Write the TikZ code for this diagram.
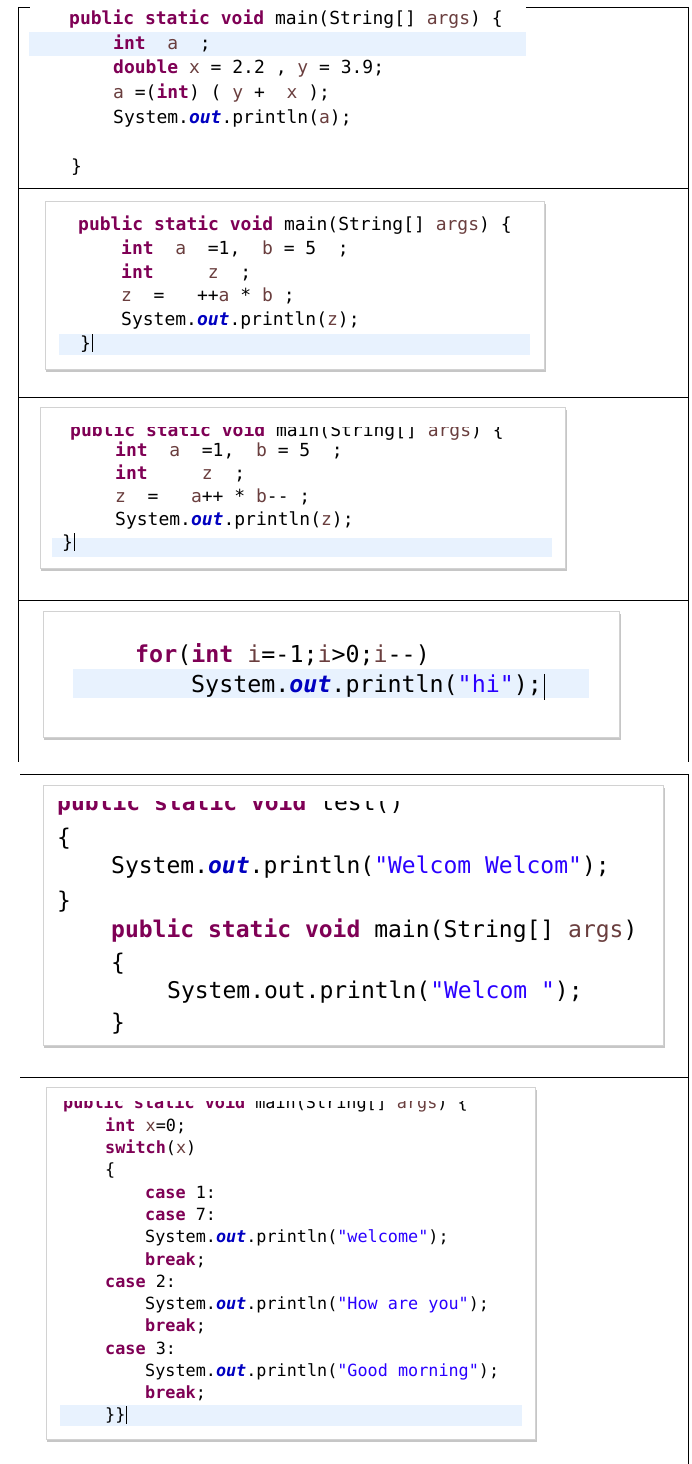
\documentclass[tikz,border=0pt]{standalone}
\usepackage{fontspec}
\newfontfamily\mono{DejaVu Sans Mono}
\definecolor{kwc}{HTML}{7F0055}
\definecolor{vrc}{HTML}{6A3E3E}
\definecolor{otc}{HTML}{0000C0}
\definecolor{stc}{HTML}{2A00FF}
\definecolor{hl}{HTML}{E8F2FE}
\newcommand{\kw}[1]{\textcolor{kwc}{\bfseries #1}}
\newcommand{\vr}[1]{\textcolor{vrc}{#1}}
\newcommand{\ot}[1]{\textcolor{otc}{\bfseries\itshape #1}}
\newcommand{\stq}[1]{\textcolor{stc}{#1}}
\tikzset{
  code/.style={anchor=base west, inner sep=0pt, text=black},
  rule/.style={draw=black, line width=0.8pt},
  hlbar/.style={fill=hl, draw=none},
  shot/.style={fill=white, draw=gray!35, line width=0.6pt},
  shad/.style={fill=gray!45, draw=none},
  cursor/.style={draw=black, line width=0.7pt}
}
\begin{document}
\begin{tikzpicture}[x=1pt,y=-1pt]
\useasboundingbox (0,0) rectangle (692,1464);
\fill[white] (0,0) rectangle (692,1464);
% table rules
\coordinate (t1) at (18,7); \coordinate (t2) at (30,7);
\coordinate (t3) at (526,7); \coordinate (t4) at (688,7);
\coordinate (b1) at (18,762); \coordinate (b4) at (688,762);
\draw[rule] (t1) -- (t2); \draw[rule] (t3) -- (t4);
\draw[rule] (t1) -- (b1); \draw[rule] (t4) -- (b4);
\draw[rule] (18,188) -- (688,188);
\draw[rule] (18,397) -- (688,397);
\draw[rule] (18,600) -- (688,600);
\draw[rule] (20,774) -- (688,774);
\draw[rule] (688,774) -- (688,1464);
\draw[rule] (20,1077) -- (688,1077);

% block 1
\fill[hl] (29,32) rectangle (526,56);
\begin{scope}[every node/.style={code, font=\mono\fontsize{18}{18}\selectfont}]
\node (a1) at (69,25) {\kw{public static void} main(String[] \vr{args}) \{};
\node (a2) at (113,50) {\kw{int}\ \ \vr{a}\ \ ;};
\node (a3) at (113,74) {\kw{double} \vr{x} = 2.2 , \vr{y} = 3.9;};
\node (a4) at (113,99) {\vr{a} =(\kw{int}) ( \vr{y} +\ \ \vr{x} );};
\node (a5) at (113,123) {System.\ot{out}.println(\vr{a});};
\node (a6) at (71,172) {\}};
\end{scope}

% block 2
\fill[shad] (46,204) rectangle (546,372);
\draw[shot] (45,201) rectangle (544,369);
\fill[hl] (59,334) rectangle (530,355);
\begin{scope}[every node/.style={code, font=\mono\fontsize{18}{18}\selectfont}]
\node (c1) at (78,230) {\kw{public static void} main(String[] \vr{args}) \{};
\node (c2) at (121,254) {\kw{int}\ \ \vr{a}\ \ =1,\ \ \vr{b} = 5\ \ ;};
\node (c3) at (121,278) {\kw{int}\ \ \ \ \ \vr{z}\ \ ;};
\node (c4) at (121,301) {\vr{z}\ \ =\ \ \ ++\vr{a} * \vr{b} ;};
\node (c5) at (121,325) {System.\ot{out}.println(\vr{z});};
\node (c6) at (80,349) {\}};
\end{scope}
\draw[cursor] (c6.north east) ++(1,-1) -- ++(0,18);

% block 3
\fill[shad] (41,410) rectangle (567,571);
\draw[shot] (40,407) rectangle (565,568);
\fill[hl] (52,538) rectangle (552,557);
\begin{scope}
\clip (40,427) rectangle (565,568);
\node[code, font=\mono\fontsize{18}{18}\selectfont] (d1) at (70,436) {\kw{public static void} main(String[] \vr{args}) \{};
\end{scope}
\begin{scope}[every node/.style={code, font=\mono\fontsize{18}{18}\selectfont}]
\node (d2) at (115,456) {\kw{int}\ \ \vr{a}\ \ =1,\ \ \vr{b} = 5\ \ ;};
\node (d3) at (115,479) {\kw{int}\ \ \ \ \ \vr{z}\ \ ;};
\node (d4) at (115,502) {\vr{z}\ \ =\ \ \ \vr{a}++ * \vr{b}-{}- ;};
\node (d5) at (115,525) {System.\ot{out}.println(\vr{z});};
\node (d6) at (62,548) {\}};
\end{scope}
\draw[cursor] (d6.north east) ++(1,-1) -- ++(0,18);

% block 4
\fill[shad] (44,614) rectangle (621,740);
\draw[shot] (43,611) rectangle (619,737);
\fill[hl] (73,669) rectangle (589,698);
\begin{scope}[every node/.style={code, font=\mono\fontsize{23.3}{23.3}\selectfont}]
\node (e1) at (135,662) {\kw{for}(\kw{int} \vr{i}=-1;\vr{i}>0;\vr{i}-{}-)};
\node (e2) at (191,692) {System.\ot{out}.println(\stq{"hi"});};
\end{scope}
\draw[cursor] (e2.north east) ++(2,0) -- ++(0,26);

% block 5
\fill[shad] (44,788) rectangle (665,1048);
\draw[shot] (43,785) rectangle (663,1045);
\begin{scope}
\clip (43,801) rectangle (663,1045);
\node[code, font=\mono\fontsize{23}{23}\selectfont] (f1) at (57,810) {\kw{public static void} test()};
\end{scope}
\begin{scope}[every node/.style={code, font=\mono\fontsize{23}{23}\selectfont}]
\node (f2) at (57,845) {\{};
\node (f3) at (111,873) {System.\ot{out}.println(\stq{"Welcom Welcom"});};
\node (f4) at (57,908) {\}};
\node (f5) at (111,937) {\kw{public static void} main(String[] \vr{args})};
\node (f6) at (111,970) {\{};
\node (f7) at (167,998) {System.out.println(\stq{"Welcom "});};
\node (f8) at (111,1030) {\}};
\end{scope}

% block 6
\fill[shad] (47,1090) rectangle (537,1442);
\draw[shot] (46,1087) rectangle (535,1439);
\fill[hl] (60,1405) rectangle (522,1426);
\begin{scope}
\clip (46,1101) rectangle (535,1439);
\node[code, font=\mono\fontsize{16.8}{16.8}\selectfont] (g1) at (63,1108) {\kw{public static void} main(String[] \vr{args}) \{};
\end{scope}
\begin{scope}[every node/.style={code, font=\mono\fontsize{16.8}{16.8}\selectfont}]
\node (g2) at (105,1131) {\kw{int} \vr{x}=0;};
\node (g3) at (105,1153) {\kw{switch}(\vr{x})};
\node (g4) at (105,1175) {\{};
\node (g5) at (145,1198) {\kw{case} 1:};
\node (g6) at (145,1220) {\kw{case} 7:};
\node (g7) at (145,1242) {System.\ot{out}.println(\stq{"welcome"});};
\node (g8) at (145,1265) {\kw{break};};
\node (g9) at (105,1287) {\kw{case} 2:};
\node (g10) at (145,1309) {System.\ot{out}.println(\stq{"How are you"});};
\node (g11) at (145,1331) {\kw{break};};
\node (g12) at (105,1354) {\kw{case} 3:};
\node (g13) at (145,1376) {System.\ot{out}.println(\stq{"Good morning"});};
\node (g14) at (145,1398) {\kw{break};};
\node (g15) at (105,1420) {\}\}};
\end{scope}
\draw[cursor] (g15.north east) ++(1,-1) -- ++(0,18);
\end{tikzpicture}
\end{document}
